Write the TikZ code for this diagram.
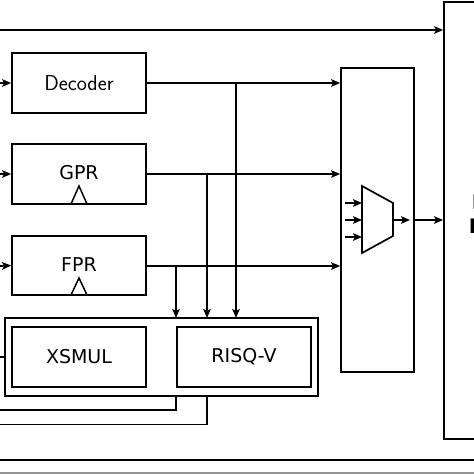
\documentclass[tikz,border=0pt]{standalone}
\usepackage{fontspec}
\newfontfamily\dvs{DejaVu Sans}
\usetikzlibrary{arrows.meta}
\begin{document}
\begin{tikzpicture}[x=1pt,y=-1pt,line width=1.7pt,
  arr/.style={-{Stealth[length=9pt,width=7.5pt,inset=2pt]}},
  blk/.style={draw,rectangle,inner sep=0pt},
  lbl/.style={font=\dvs\fontsize{19}{22}\selectfont},
  clk/.style={line width=1.5pt}]
\useasboundingbox (0,0) rectangle (474,474);
\fill[gray!85] (0,471.5) rectangle (474,474);
% boxes
\node[blk,minimum width=134pt,minimum height=60pt] (dec) at (79,83) {};
\node[font=\sffamily\fontsize{21.5}{24}\selectfont] (dect) at (79,83) {Decoder};
\node[blk,minimum width=134pt,minimum height=60pt] (gpr) at (79,174) {};
\node[lbl] (gprt) at (79,173) {GPR};
\node[blk,minimum width=134pt,minimum height=59pt] (fpr) at (79,265.5) {};
\node[lbl] (fprt) at (79,265) {FPR};
\node[blk,minimum width=313pt,minimum height=78pt] (outer) at (161.5,357) {};
\node[blk,minimum width=134pt,minimum height=60pt] (xs) at (79,357) {};
\node[lbl] (xst) at (79,357) {XSMUL};
\node[blk,minimum width=134pt,minimum height=60pt] (rv) at (244,357) {};
\node[lbl] (rvt) at (244,357) {RISQ-V};
\node[blk,minimum width=73pt,minimum height=304pt] (mid) at (377.5,220) {};
\node[blk,minimum width=80pt,minimum height=437pt] (big) at (484,220.5) {};
\node[font=\dvs\bfseries\fontsize{20}{24}\selectfont,anchor=west,inner sep=0pt] (bt1) at (471,202) {I};
\node[font=\dvs\bfseries\fontsize{20}{24}\selectfont,anchor=west,inner sep=0pt] (bt2) at (468,226) {E};
% clock triangles
\draw[clk] (71,204) -- (79,186) -- (87,204);
\draw[clk] (71,295) -- (79,278) -- (87,295);
% mux
\coordinate (m1) at (362,186);
\coordinate (m2) at (393,203);
\coordinate (m3) at (393,236);
\coordinate (m4) at (362,253);
\draw (m1) -- (m2) -- (m3) -- (m4) -- cycle;
\coordinate (mo) at (410,220);
\draw[arr] (393,220) -- (mo);
\foreach \yy in {203,220,237} { \draw[arr] (345,\yy) -- (362,\yy); }
\draw[arr] (mid.east |- mo) -- (big.west |- mo);
% top line
\coordinate (tl) at (0,30);
\draw[arr] (tl) -- (big.west |- tl);
% inputs
\coordinate (i1) at (0,83);
\coordinate (i2) at (0,174);
\coordinate (i3) at (0,266);
\draw[arr] (i1) -- (dec.west);
\draw[arr] (i2) -- (gpr.west);
\draw[arr] (i3) -- (fpr.west);
% outputs
\draw[arr] (dec.east) -- (mid.west |- dec.east);
\draw[arr] (146,174) -- (mid.west |- 0,174);
\draw[arr] (146,266) -- (mid.west |- 0,266);
\draw[arr] (236,83) -- (236,318);
\draw[arr] (207,174) -- (207,318);
\draw[arr] (176,266) -- (176,318);
% feedback lines
\coordinate (x0) at (0,357);
\draw (x0) -- (outer.west);
\draw (176,396) -- (176,410) -- (0,410);
\draw (207,396) -- (207,424.5) -- (0,424.5);
\draw (0,460) -- (474,460);
\end{tikzpicture}
\end{document}
